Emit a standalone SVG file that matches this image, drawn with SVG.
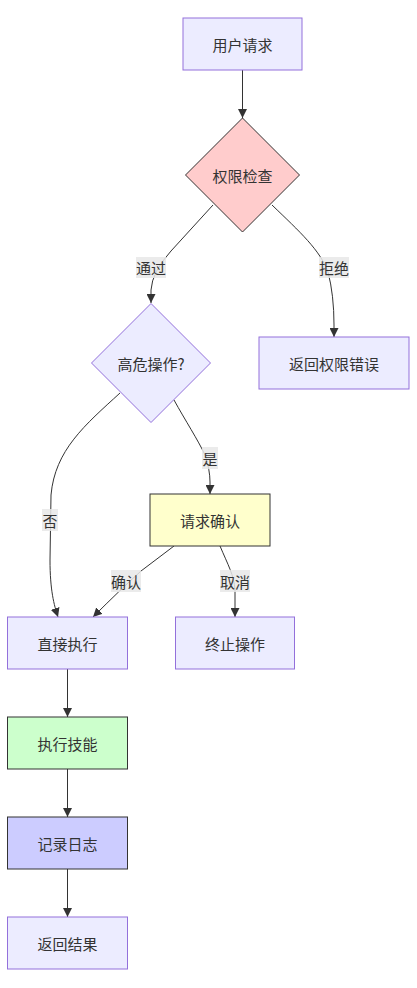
<svg xmlns="http://www.w3.org/2000/svg" width="417" height="988" viewBox="0 0 417 988">
<style>
.n{fill:#ECECFF;stroke:#9370DB;stroke-width:1}
.d{stroke:#333;stroke-width:1}
text{font-family:"Noto Sans CJK SC","Liberation Sans",sans-serif;font-size:15px;fill:#333;text-anchor:middle;dominant-baseline:central}
.e{fill:none;stroke:#333;stroke-width:1;marker-end:url(#arr)}
.lb{fill:#e8e8e8;opacity:0.85}
</style>
<defs>
<marker id="arr" viewBox="0 0 10 10" refX="10" refY="5" markerWidth="9" markerHeight="9" markerUnits="userSpaceOnUse" orient="auto">
<path d="M0,0 L10,5 L0,10 z" fill="#333"/>
</marker>
</defs>
<rect width="417" height="988" fill="#fff"/>
<g id="connectors">
<path class="e" d="M242.5,70 L242.5,118"/>
<path class="e" d="M213,205 L171,251 Q152,272 151,290 L151,303"/>
<path class="e" d="M272,205 C300,232 320,250 328,272 Q334,295 334,325 L334,337"/>
<path class="e" d="M120,393 C85,425 55,450 51,495 L50,560 C50,590 54,605 58,617"/>
<path class="e" d="M174,400 C185,420 198,440 205,455 Q210,470 210,482 L210,494"/>
<path class="e" d="M174,546 L141,571 Q120,590 93,617"/>
<path class="e" d="M220,546 C228,565 234,575 235,590 L235,617"/>
<path class="e" d="M67.5,669 L67.5,717"/>
<path class="e" d="M67.5,769 L67.5,817"/>
<path class="e" d="M67.5,869 L67.5,917"/>
<g id="edge-labels">
<rect class="lb" x="136" y="257" width="30" height="21"/><text x="151" y="267.5">通过</text>
<rect class="lb" x="319" y="257" width="30" height="21"/><text x="334" y="267.5">拒绝</text>
<rect class="lb" x="202" y="447" width="16" height="22"/><text x="210" y="458">是</text>
<rect class="lb" x="42" y="509" width="16" height="22"/><text x="50" y="520">否</text>
<rect class="lb" x="111" y="570" width="30" height="22"/><text x="126" y="581">确认</text>
<rect class="lb" x="220" y="570" width="30" height="22"/><text x="235" y="581">取消</text>
</g>
</g>
<g id="n-user"><rect class="n" x="183" y="18" width="119" height="52"/><text x="242.5" y="44">用户请求</text></g>
<g id="n-auth"><polygon points="242.5,118 299.5,175 242.5,232 185.5,175" fill="#ffcccc" class="d"/><text x="242.5" y="175">权限检查</text></g>
<g id="n-risk"><polygon points="151,303.5 210.5,363 151,422.5 91.5,363" class="n"/><text x="151" y="363">高危操作?</text></g>
<g id="n-deny"><rect class="n" x="259" y="337" width="150" height="52"/><text x="334" y="363">返回权限错误</text></g>
<g id="n-confirm"><rect x="150" y="494" width="120" height="52" fill="#ffffcc" class="d"/><text x="210" y="520">请求确认</text></g>
<g id="n-direct"><rect class="n" x="7.5" y="617" width="120" height="52"/><text x="67.5" y="643">直接执行</text></g>
<g id="n-abort"><rect class="n" x="175.5" y="617" width="119" height="52"/><text x="235" y="643">终止操作</text></g>
<g id="n-exec"><rect x="7.5" y="717" width="120" height="52" fill="#ccffcc" class="d"/><text x="67.5" y="743">执行技能</text></g>
<g id="n-log"><rect x="7.5" y="817" width="120" height="52" fill="#ccccff" class="d"/><text x="67.5" y="843">记录日志</text></g>
<g id="n-result"><rect class="n" x="7.5" y="917" width="120" height="52"/><text x="67.5" y="943">返回结果</text></g>
</svg>
